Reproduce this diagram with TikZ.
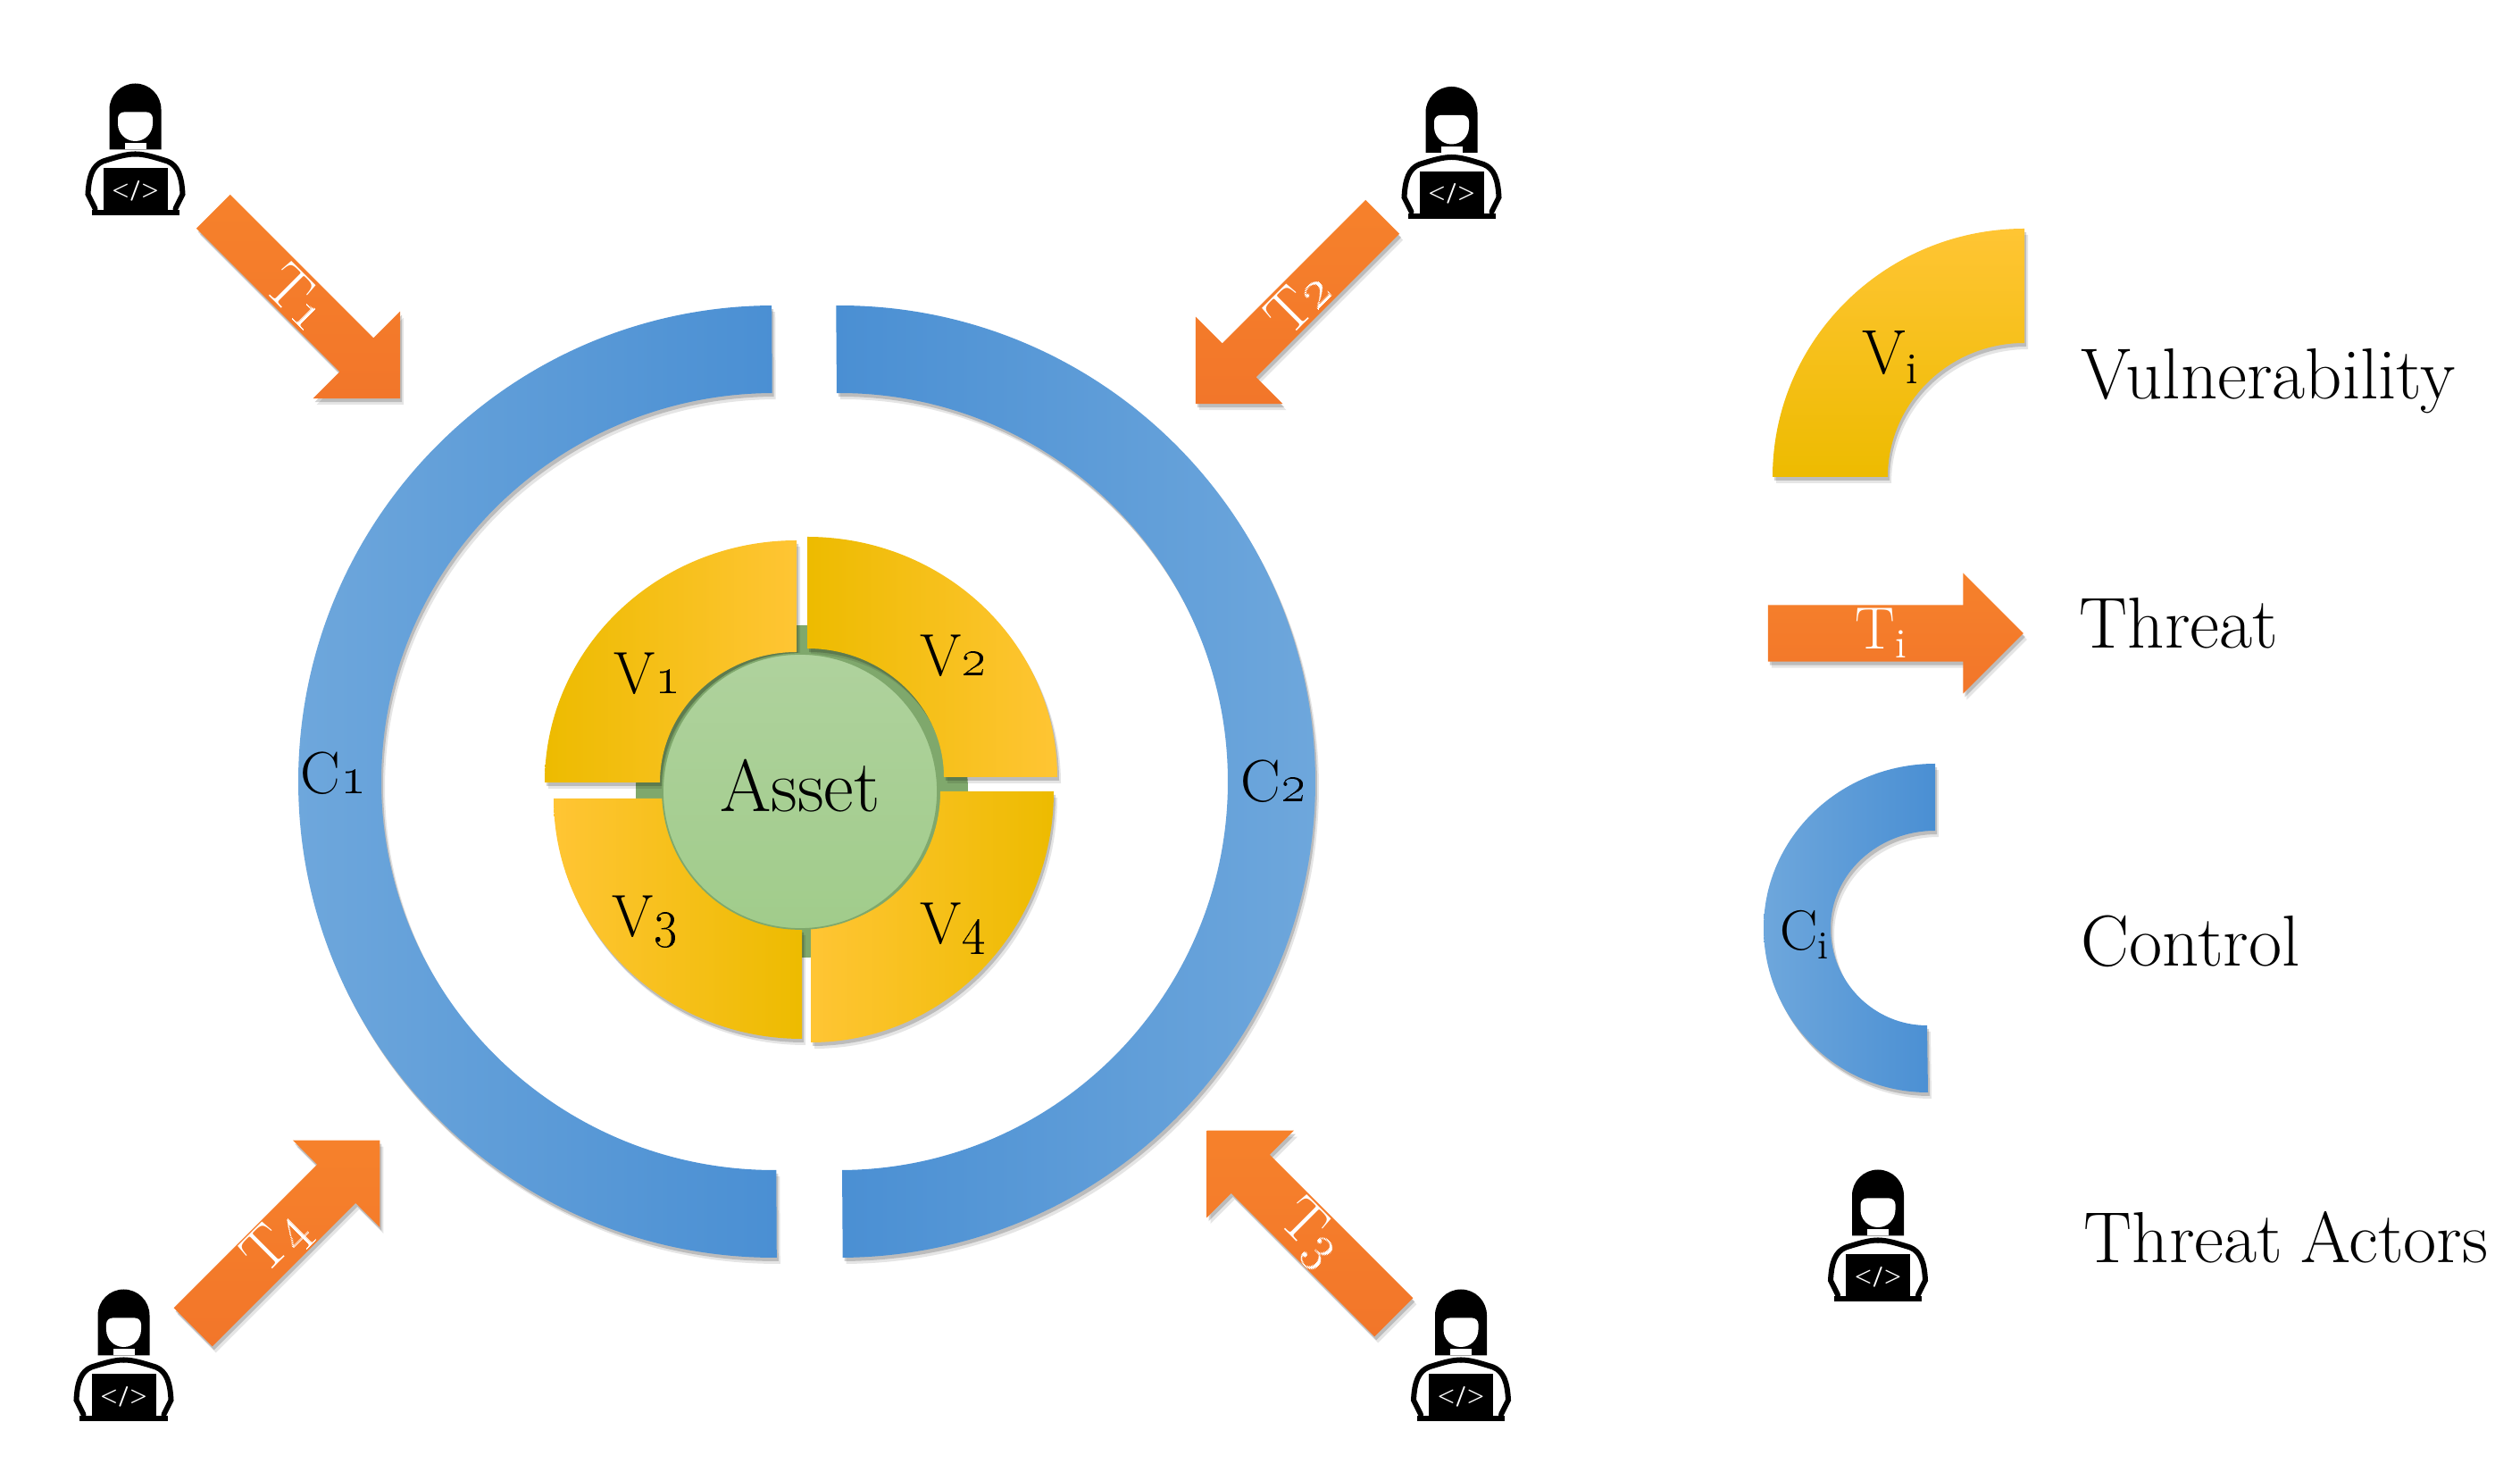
\documentclass[tikz,border=0pt]{standalone}
\usepackage{xcolor}
\usetikzlibrary{arrows.meta,positioning,shapes.arrows,shadows}
\definecolor{ctrlA}{HTML}{6EA7DC}
\definecolor{ctrlB}{HTML}{4A8FD3}
\definecolor{vulnA}{HTML}{FFC534}
\definecolor{vulnB}{HTML}{FFC60B}
\definecolor{vulnC}{HTML}{EDBB00}
\definecolor{thrA}{HTML}{F6812B}
\definecolor{thrB}{HTML}{F2762A}
\definecolor{assetA}{HTML}{AFD29D}
\definecolor{assetB}{HTML}{A1CC8B}
\definecolor{assetC}{HTML}{7FA86C}
\newcommand{\lblfont}{\fontsize{19}{22}\selectfont}
\newcommand{\legfont}{\fontsize{23}{26}\selectfont}
\tikzset{
  softshadow/.style={drop shadow={shadow xshift=0.02cm,shadow yshift=-0.04cm,opacity=.18,fill=black},
    drop shadow={shadow xshift=0.04cm,shadow yshift=-0.07cm,opacity=.10,fill=black}},
  vulnseg/.style={softshadow,shading=axis,shading angle=#1},
  thrarrow/.style={single arrow,softshadow,top color=thrA,bottom color=thrB,inner sep=0pt,
    single arrow tip angle=90,single arrow head extend=0.37cm,minimum width=1.38cm,
    minimum height=2.96cm,text=white,font=\lblfont},
  lbl/.style={inner sep=0pt,font=\lblfont},
  leglbl/.style={inner sep=0pt,font=\legfont,anchor=base west},
  actor/.pic={
    \fill (-.29,0) -- (-.29,.45) arc[start angle=180,end angle=0,radius=.29] -- (.29,0) -- cycle;
    \fill[white] (-.195,.29) [rounded corners=.07cm] -- (-.195,.42) -- (.195,.42) [sharp corners] -- (.195,.29)
      arc[start angle=0,end angle=-180,radius=.195] -- cycle;
    \fill[white] (-.12,.07) rectangle (.12,.0);
    \foreach \s in {1,-1}{
      \draw[line width=.06cm,xscale=\s,line cap=round] (0,-.05) .. controls (-.1,-.05) and (-.2,-.08) .. (-.36,-.13)
        .. controls (-.48,-.18) and (-.52,-.3) .. (-.53,-.5) -- (-.45,-.66);}
    \fill (-.36,-.21) rectangle (.36,-.7);
    \fill (-.49,-.68) rectangle (.49,-.74);
    \node[text=white,inner sep=0pt,font=\fontsize{6.5}{7}\selectfont\bfseries\sffamily] (-code) at (0,-.46) {</>};
  }
}
\begin{document}
\begin{tikzpicture}
\useasboundingbox (0,0) rectangle (28.22,16.39);
% control rings
\path[softshadow,left color=ctrlA,right color=ctrlB,rotate around={0.3:(8.67,7.64)}] (8.67,12.97)
  arc[start angle=90,delta angle=180,radius=5.33]
  -- ++(0,0.98) arc[start angle=270,delta angle=-180,x radius=4.40,y radius=4.35] -- cycle;
\path[softshadow,left color=ctrlB,right color=ctrlA,rotate around={0.4:(9.40,7.64)}] (9.40,12.97)
  arc[start angle=90,delta angle=-180,radius=5.33]
  -- ++(0,0.98) arc[start angle=-90,delta angle=180,radius=4.35] -- cycle;
% vulnerabilities round the asset
\fill[assetC] (8.98,7.53) circle (1.86);
\path[vulnseg=45,left color=vulnC,middle color=vulnB,right color=vulnA] (8.92,10.34)
  arc[start angle=90,delta angle=90,x radius=2.82,y radius=2.71] -- (7.39,7.63)
  arc[start angle=180,delta angle=-90,x radius=1.53,y radius=1.46] -- cycle;
\path[vulnseg=-45,left color=vulnC,middle color=vulnB,right color=vulnA] (9.04,10.38)
  arc[start angle=90,delta angle=-90,x radius=2.80,y radius=2.69] -- (10.57,7.69)
  arc[start angle=0,delta angle=90,x radius=1.53,y radius=1.44] -- cycle;
\path[vulnseg=-45,left color=vulnA,middle color=vulnB,right color=vulnC] (6.20,7.45)
  arc[start angle=180,delta angle=90,x radius=2.78,y radius=2.69] -- (8.98,5.99)
  arc[start angle=270,delta angle=-90,x radius=1.52,y radius=1.46] -- cycle;
\path[vulnseg=45,left color=vulnA,middle color=vulnB,right color=vulnC] (11.80,7.53)
  arc[start angle=0,delta angle=-90,x radius=2.72,y radius=2.81] -- (9.08,6.02)
  arc[start angle=270,delta angle=90,x radius=1.45,y radius=1.51] -- cycle;
\node[circle,minimum size=3.08cm,inner sep=0pt,top color=assetA,bottom color=assetB,draw=assetC,line width=0.5pt,
  text height=.5cm,text depth=.04cm,font=\fontsize{23.5}{26}\selectfont] (asset) at (8.96,7.53) {Asset};
\foreach \x/\y/\n in {7.25/8.85/1,10.68/9.05/2,7.23/6.07/3,10.68/5.99/4}{
  \node[lbl] (vlbl\n) at (\x,\y) {V\oldstylenums{\n}};}
\node[lbl] (clbl1) at (3.73,7.73) {C\oldstylenums{1}};
\node[lbl] (clbl2) at (14.26,7.64) {C\oldstylenums{2}};
% threats
\node[thrarrow,rotate=-45] (thr1) at (3.34,13.07) {T\oldstylenums{1}};
\node[thrarrow,shape border rotate=180,rotate=45] (thr2) at (14.53,13.01) {T\oldstylenums{2}};
\node[thrarrow,shape border rotate=180,rotate=-45] (thr3) at (14.67,2.58) {T\oldstylenums{3}};
\node[thrarrow,rotate=45] (thr4) at (3.10,2.47) {T\oldstylenums{4}};
\foreach \x/\y/\n in {1.515/14.715/A,16.255/14.68/B,16.36/1.215/C,1.385/1.215/D,21.03/2.555/E}{
  \pic (actor\n) at (\x,\y) {actor};}
% legend
\path[softshadow,top color=vulnA,middle color=vulnB,bottom color=vulnC] (19.85,11.05)
  arc[start angle=180,delta angle=-90,x radius=2.82,y radius=2.78] -- (22.67,12.55)
  arc[start angle=90,delta angle=90,x radius=1.53,y radius=1.50] -- cycle;
\node[lbl,anchor=base west,font=\fontsize{20}{24}\selectfont] (vleg) at (20.85,12.20) {V\textsubscript{i}};
\node[thrarrow,minimum height=2.86cm,minimum width=1.35cm,single arrow head extend=0.32cm] (tleg) at (21.07,9.30) {T\textsubscript{i}\hspace{0.35cm}};
\path[softshadow,left color=ctrlA,right color=ctrlB] (21.67,7.84)
  arc[start angle=90,delta angle=90,x radius=1.92,y radius=1.84] arc[start angle=180,delta angle=90,radius=1.84]
  -- (21.58,4.91) arc[start angle=270,delta angle=-90,x radius=1.08,y radius=1.09]
  arc[start angle=180,delta angle=-90,x radius=1.17,y radius=1.09] -- cycle;
\node[lbl,anchor=base west,font=\fontsize{18}{22}\selectfont] (cleg) at (19.93,5.75) {C\textsubscript{i}};
\node[leglbl] (txtvuln) at (23.30,11.92) {Vulnerability};
\node[leglbl] (txtthr) at (23.28,9.13) {Threat};
\node[leglbl] (txtctrl) at (23.30,5.57) {Control};
\node[leglbl] (txtact) at (23.33,2.25) {Threat\hspace{.25em}Actors};
\end{tikzpicture}
\end{document}
